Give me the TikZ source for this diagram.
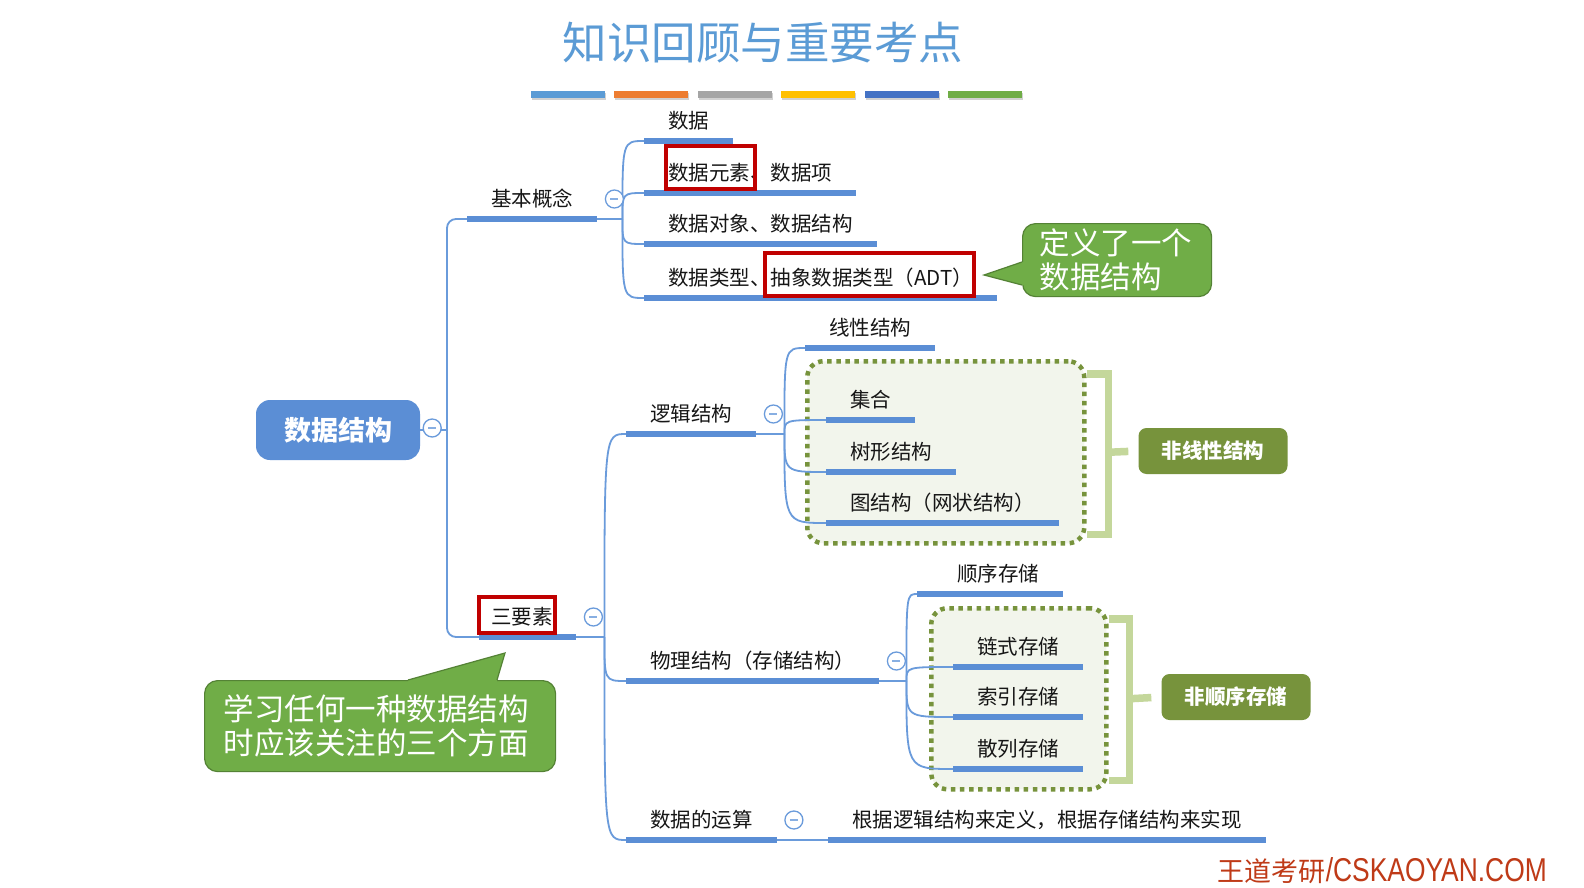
\documentclass[tikz,border=0pt]{standalone}
\usepackage{fontspec}
\setmainfont{Noto Sans CJK SC}
\newfontfamily\latinsf[FakeStretch=0.8]{Liberation Sans}
\usetikzlibrary{calc}
\definecolor{mapblue}{HTML}{5B8ED5}
\definecolor{wireblue}{HTML}{6A9BDB}
\definecolor{titleblue}{HTML}{5B9BD5}
\definecolor{inkdark}{HTML}{161616}
\definecolor{hired}{HTML}{C00000}
\definecolor{callgreen}{HTML}{70AD47}
\definecolor{callrim}{HTML}{548235}
\definecolor{olive}{HTML}{77933C}
\definecolor{palegreen}{HTML}{F2F5EC}
\definecolor{bracegreen}{HTML}{C4D79B}
\definecolor{rust}{HTML}{BF3A17}
\definecolor{barA}{HTML}{5B9BD5}
\definecolor{barB}{HTML}{ED7D31}
\definecolor{barC}{HTML}{A5A5A5}
\definecolor{barD}{HTML}{FFC000}
\definecolor{barE}{HTML}{4472C4}
\definecolor{barF}{HTML}{70AD47}
\tikzset{uline/.style={draw=mapblue,line width=5.2pt},wire/.style={draw=wireblue,line width=1.8pt},topic/.style={anchor=south west,font=\fontsize{20.5}{24}\selectfont,text=inkdark,inner xsep=24pt,inner ysep=10pt,text height=16pt,text depth=2pt,append after command={(\tikzlastnode.south west) edge[uline] (\tikzlastnode.south east)}},rootbox/.style={fill=mapblue,rounded corners=14pt,text=white,font=\fontsize{27}{30}\selectfont\bfseries,minimum width=164pt,minimum height=60pt},fold/.style={circle,draw=wireblue,fill=white,line width=1.3pt,minimum size=18pt,inner sep=0pt,path picture={\draw[wireblue!80,line width=1.4pt] ($(path picture bounding box.center)+(-4,0)$) -- ($(path picture bounding box.center)+(4,0)$);}},hilite/.style={draw=hired,line width=3.3pt},dotbox/.style={draw=olive,fill=palegreen,line width=4.5pt,dash pattern=on 4.5pt off 4.6pt,rounded corners=16pt,anchor=north west},bracket/.style={draw=bracegreen,line width=7.5pt},tagbox/.style={fill=olive,rounded corners=8pt,text=white,font=\fontsize{20.5}{24}\selectfont\bfseries,minimum width=149pt,minimum height=46pt},bubble/.style={fill=callgreen,draw=callrim,line width=1.2pt,rounded corners=13pt,text=white,font=\fontsize{30.5}{34}\selectfont,align=left,anchor=north west}}

\begin{document}
\begin{tikzpicture}[x=1pt,y=-1pt]
\fill[white] (0,0) rectangle (1584,888);
\useasboundingbox (0,0) rectangle (1584,888);
\node[font=\fontsize{44.5}{50}\selectfont,text=titleblue] (title) at (763,43) {知识回顾与重要考点};
\foreach \c [count=\i] in {barA,barB,barC,barD,barE,barF}{
  \fill[black!18] ({531+(\i-1)*83.4+1},93) rectangle ++(74,7.5);
  \fill[\c] ({531+(\i-1)*83.4},91) rectangle ++(74,7);}

\node[dotbox,minimum width=277pt,minimum height=182pt] (nonlin) at (805,359) {};
\node[tagbox] (nonlintag) at (1213,451) {非线性结构};
\draw[bracket] ($(nonlin.north east)+(0,15)$) -| ($(nonlin.south east)+(22,-11)$) -- ($(nonlin.south east)+(0,-11)$);
\draw[bracket,shorten >=10pt] ($(nonlin.east)+(22,0)$) -- (nonlintag.west);
\node[dotbox,minimum width=175pt,minimum height=181pt] (nonseq) at (929,606) {};
\node[tagbox] (nonseqtag) at (1236,697) {非顺序存储};
\draw[bracket] ($(nonseq.north east)+(0,13)$) -| ($(nonseq.south east)+(21,-11)$) -- ($(nonseq.south east)+(0,-11)$);
\draw[bracket,shorten >=10pt] ($(nonseq.east)+(21,0)$) -- (nonseqtag.west);

\node[rootbox] (root) at (338,430) {数据结构};
\node[topic] (basic) at (467,219) {基本概念};
\node[topic] (d1) at (644,141) {数据};
\node[topic] (d2) at (644,193) {数据元素、数据项};
\node[topic] (d3) at (644,244) {数据对象、数据结构};
\node[topic] (d4) at (644,298) {数据类型、抽象数据类型（ADT）};
\node[topic,text width=73pt,align=left,inner xsep=12pt] (three) at (479,637) {三要素};
\node[topic] (logic) at (626,434) {逻辑结构};
\node[topic] (phys) at (626,681) {物理结构（存储结构）};
\node[topic] (ops) at (626,840) {数据的运算};
\node[topic] (impl) at (828,840) {根据逻辑结构来定义，根据存储结构来实现};
\node[topic] (linear) at (805,348) {线性结构};
\node[topic] (set) at (826,420) {集合};
\node[topic] (tree) at (826,472) {树形结构};
\node[topic] (graph) at (826,523) {图结构（网状结构）};
\node[topic,text width=98pt,align=right,inner xsep=24pt] (seq) at (917,594) {顺序存储};
\node[topic] (chain) at (953,667) {链式存储};
\node[topic] (index) at (953,717) {索引存储};
\node[topic] (hash) at (953,769) {散列存储};

\node[bubble,text width=155pt,inner xsep=17pt,minimum height=73pt] (callADT) at (1022,223) {定义了一个\\数据结构};
\coordinate (tipA) at (984,275);
\fill[callgreen] ($(callADT.north west)+(5,39)$) -- ($(callADT.north west)+(0,39)$) -- (tipA) -- ($(callADT.north west)+(0,62)$) -- ($(callADT.north west)+(5,62)$) -- cycle;
\draw[callrim,line width=1.2pt] ($(callADT.north west)+(0,39)$) -- (tipA) -- ($(callADT.north west)+(0,62)$);
\node[bubble,text width=313pt,inner xsep=19pt,minimum height=91pt] (callThree) at (204,680) {学习任何一种数据结构\\时应该关注的三个方面};
\coordinate (tipB) at (505,653);
\fill[callgreen] ($(callThree.north west)+(204,5)$) -- ($(callThree.north west)+(204,0)$) -- (tipB) -- ($(callThree.north west)+(293,0)$) -- ($(callThree.north west)+(293,5)$) -- cycle;
\draw[callrim,line width=1.2pt] ($(callThree.north west)+(204,0)$) -- (tipB) -- ($(callThree.north west)+(293,0)$);

\coordinate (trunk) at (447,430);
\draw[wire] (root) -- (trunk);
\draw[wire,rounded corners=9pt] (basic.south west) -| (trunk) |- (three.south west);
\coordinate (fanA) at ($(basic.south east)+(25,0)$);
\draw[wire] (basic.south east) -- (fanA);
\foreach \kid in {d1,d2,d3,d4} \draw[wire] (fanA) .. controls (fanA |- \kid.south west) .. (\kid.south west);
\coordinate (fanT) at ($(three.south east)+(28,0)$);
\draw[wire] (three.south east) -- (fanT);
\foreach \kid in {logic,phys,ops} \draw[wire] (fanT) .. controls (fanT |- \kid.south west) .. (\kid.south west);
\coordinate (fanL) at ($(logic.south east)+(28,0)$);
\draw[wire] (logic.south east) -- (fanL);
\foreach \kid in {linear,set,tree,graph} \draw[wire] (fanL) .. controls (fanL |- \kid.south west) .. (\kid.south west);
\coordinate (fanP) at ($(phys.south east)+(27,0)$);
\draw[wire] (phys.south east) -- (fanP);
\foreach \kid in {seq,chain,index,hash} \draw[wire] (fanP) .. controls (fanP |- \kid.south west) .. (\kid.south west);
\draw[wire] (ops.south east) -- (impl.south west);

\draw[hilite] (666,146) rectangle (755,189);
\draw[hilite] (765,253) rectangle (974,296);
\draw[hilite] (479,597) rectangle (555,633);

\node[fold] (froot) at ($(root.east)+(12,-2)$) {};
\node[fold] (fbasic) at ($(basic.south east)+(17,-20)$) {};
\node[fold] (fthree) at ($(three.south east)+(17,-20)$) {};
\node[fold] (flogic) at ($(logic.south east)+(17,-20)$) {};
\node[fold] (fphys) at ($(phys.south east)+(17,-20)$) {};
\node[fold] (fops) at ($(ops.south east)+(17,-20)$) {};

\node[anchor=base east,text=rust,inner sep=0pt] (brand) at (1547,881) {{\fontsize{27}{30}\selectfont 王道考研}{\latinsf\fontsize{33}{36}\selectfont /CSKAOYAN.COM}};
\end{tikzpicture}
\end{document}
